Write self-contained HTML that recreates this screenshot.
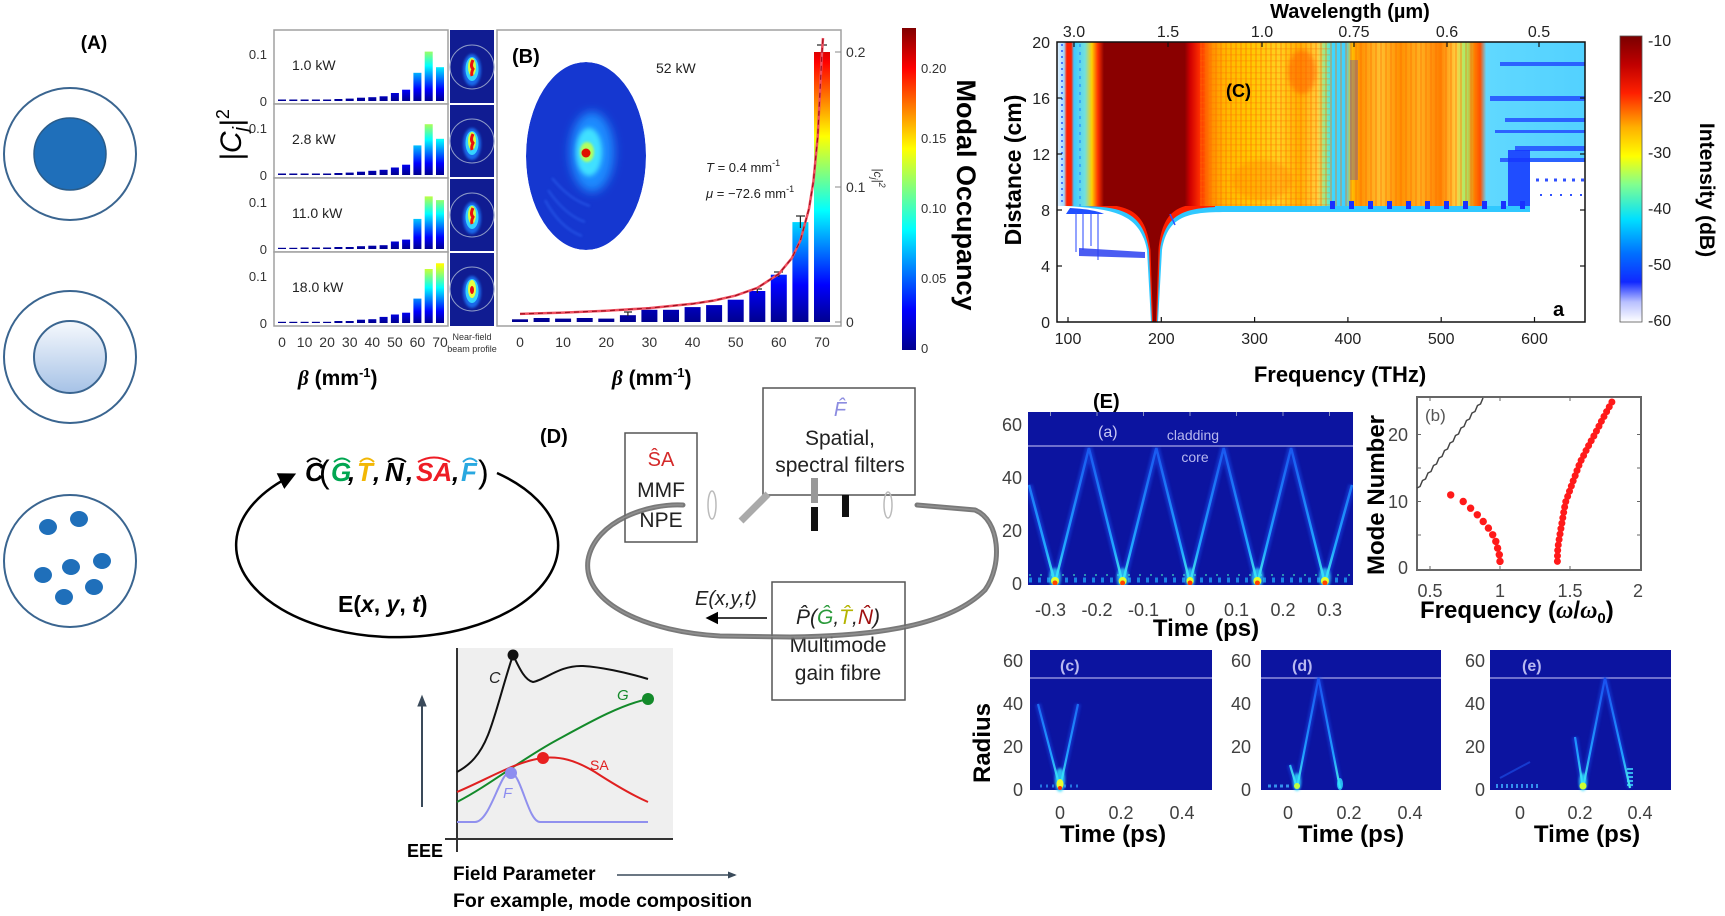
<!DOCTYPE html>
<html>
<head>
<meta charset="utf-8">
<style>
  html,body{margin:0;padding:0;background:#fff;}
  svg{display:block;}
  text{font-family:"Liberation Sans",sans-serif;}
</style>
</head>
<body>
<svg width="1725" height="916" viewBox="0 0 1725 916" xmlns="http://www.w3.org/2000/svg">
<defs>
  <linearGradient id="jetV" x1="0" y1="1" x2="0" y2="0">
    <stop offset="0" stop-color="#00008f"/>
    <stop offset="0.125" stop-color="#0000ff"/>
    <stop offset="0.375" stop-color="#00ffff"/>
    <stop offset="0.625" stop-color="#ffff00"/>
    <stop offset="0.875" stop-color="#ff0000"/>
    <stop offset="1" stop-color="#800000"/>
  </linearGradient>
  <linearGradient id="jetP" gradientUnits="userSpaceOnUse" x1="0" y1="0" x2="0" y2="-94">
    <stop offset="0" stop-color="#00008f"/>
    <stop offset="0.125" stop-color="#0000ff"/>
    <stop offset="0.375" stop-color="#00ffff"/>
    <stop offset="0.625" stop-color="#ffff00"/>
    <stop offset="0.875" stop-color="#ff0000"/>
    <stop offset="1" stop-color="#800000"/>
  </linearGradient>
  <linearGradient id="jetB" gradientUnits="userSpaceOnUse" x1="0" y1="0" x2="0" y2="-297">
    <stop offset="0" stop-color="#00008f"/>
    <stop offset="0.125" stop-color="#0000ff"/>
    <stop offset="0.375" stop-color="#00ffff"/>
    <stop offset="0.625" stop-color="#ffff00"/>
    <stop offset="0.875" stop-color="#ff0000"/>
    <stop offset="1" stop-color="#800000"/>
  </linearGradient>
  <linearGradient id="cbarC" x1="0" y1="1" x2="0" y2="0">
    <stop offset="0" stop-color="#ffffff"/>
    <stop offset="0.07" stop-color="#b8c0ff"/>
    <stop offset="0.14" stop-color="#1028ff"/>
    <stop offset="0.24" stop-color="#0070ff"/>
    <stop offset="0.36" stop-color="#00e0ff"/>
    <stop offset="0.48" stop-color="#80ff90"/>
    <stop offset="0.58" stop-color="#ffff00"/>
    <stop offset="0.68" stop-color="#ffb000"/>
    <stop offset="0.8" stop-color="#ff2000"/>
    <stop offset="0.9" stop-color="#c00000"/>
    <stop offset="1" stop-color="#7a0000"/>
  </linearGradient>
  <linearGradient id="gC" gradientUnits="userSpaceOnUse" x1="1057" y1="0" x2="1603" y2="0">
    <stop offset="0" stop-color="#e6f3ff"/>
    <stop offset="0.013" stop-color="#9fd8ff"/>
    <stop offset="0.018" stop-color="#ff2000"/>
    <stop offset="0.026" stop-color="#ff2000"/>
    <stop offset="0.031" stop-color="#40c8ff"/>
    <stop offset="0.051" stop-color="#70e0e0"/>
    <stop offset="0.064" stop-color="#ffd000"/>
    <stop offset="0.075" stop-color="#ff3000"/>
    <stop offset="0.086" stop-color="#8a0000"/>
    <stop offset="0.234" stop-color="#8a0000"/>
    <stop offset="0.244" stop-color="#d00000"/>
    <stop offset="0.262" stop-color="#ff3000"/>
    <stop offset="0.284" stop-color="#ff9000"/>
    <stop offset="0.308" stop-color="#ffb800"/>
    <stop offset="0.353" stop-color="#ffc800"/>
    <stop offset="0.408" stop-color="#ffd020"/>
    <stop offset="0.445" stop-color="#ffb000"/>
    <stop offset="0.478" stop-color="#ffd040"/>
    <stop offset="0.493" stop-color="#80f0a0"/>
    <stop offset="0.504" stop-color="#40d8ff"/>
    <stop offset="0.529" stop-color="#40d0ff"/>
    <stop offset="0.540" stop-color="#ffc000"/>
    <stop offset="0.555" stop-color="#ff9000"/>
    <stop offset="0.592" stop-color="#ffc030"/>
    <stop offset="0.628" stop-color="#ff9000"/>
    <stop offset="0.665" stop-color="#ffb020"/>
    <stop offset="0.701" stop-color="#ff8000"/>
    <stop offset="0.731" stop-color="#ffd040"/>
    <stop offset="0.749" stop-color="#a0f070"/>
    <stop offset="0.764" stop-color="#ff8000"/>
    <stop offset="0.775" stop-color="#ff5000"/>
    <stop offset="0.786" stop-color="#60d8ff"/>
    <stop offset="1" stop-color="#50d0ff"/>
  </linearGradient>
  <linearGradient id="coreGrad" x1="0" y1="0" x2="0" y2="1">
    <stop offset="0" stop-color="#f6f9fd"/>
    <stop offset="1" stop-color="#a6c2e6"/>
  </linearGradient>
  <linearGradient id="lineA" gradientUnits="userSpaceOnUse" x1="0" y1="583" x2="0" y2="448">
    <stop offset="0" stop-color="#50f0e0"/>
    <stop offset="0.25" stop-color="#20a8ff"/>
    <stop offset="1" stop-color="#1a58f0"/>
  </linearGradient>
  <linearGradient id="lineS" gradientUnits="userSpaceOnUse" x1="0" y1="788" x2="0" y2="678">
    <stop offset="0" stop-color="#50f0e0"/>
    <stop offset="0.3" stop-color="#20a0ff"/>
    <stop offset="1" stop-color="#1a50f0"/>
  </linearGradient>
  <pattern id="vstripe" patternUnits="userSpaceOnUse" width="5" height="10">
    <rect x="0" y="0" width="2" height="10" fill="#ff7000" opacity="0.35"/>
  </pattern>
  <pattern id="hstripe" patternUnits="userSpaceOnUse" width="10" height="6">
    <rect x="0" y="0" width="10" height="1.5" fill="#ff6a00" opacity="0.25"/>
  </pattern>
  <filter id="b1" x="-50%" y="-50%" width="200%" height="200%"><feGaussianBlur stdDeviation="1.2"/></filter>
  <filter id="b2" x="-50%" y="-50%" width="200%" height="200%"><feGaussianBlur stdDeviation="2.5"/></filter>
  <filter id="b4" x="-50%" y="-50%" width="200%" height="200%"><feGaussianBlur stdDeviation="5"/></filter>
  <marker id="arrK" viewBox="0 0 10 10" refX="8" refY="5" markerWidth="7" markerHeight="7" orient="auto">
    <path d="M0,0 L10,5 L0,10 z" fill="#000"/>
  </marker>
  <marker id="arrS" viewBox="0 0 10 10" refX="8" refY="5" markerWidth="6" markerHeight="6" orient="auto">
    <path d="M0,1 L10,5 L0,9 z" fill="#3a4a5a"/>
  </marker>
  <clipPath id="clipC"><rect x="1057" y="42" width="528" height="280"/></clipPath>
  <clipPath id="clipA"><rect x="1028" y="412" width="325" height="173"/></clipPath>
  <clipPath id="clipBeam"><ellipse cx="586" cy="156" rx="60" ry="94"/></clipPath>
</defs>

<rect width="1725" height="916" fill="#fff"/>

<!-- ================= (A) ================= -->
<text x="94" y="49" font-weight="bold" font-size="19" text-anchor="middle">(A)</text>
<circle cx="70" cy="154" r="66" fill="#fff" stroke="#3a6590" stroke-width="2"/>
<circle cx="70" cy="154" r="36" fill="#1f6fba" stroke="#2a5c8a" stroke-width="1.5"/>
<circle cx="70" cy="357" r="66" fill="#fff" stroke="#3a6590" stroke-width="2"/>
<circle cx="70" cy="357" r="36" fill="url(#coreGrad)" stroke="#3a6590" stroke-width="2"/>
<circle cx="70" cy="561" r="66" fill="#fff" stroke="#3a6590" stroke-width="2"/>
<g fill="#1f6fba">
  <ellipse cx="48" cy="527" rx="9" ry="8"/>
  <ellipse cx="79" cy="519" rx="9" ry="8"/>
  <ellipse cx="71" cy="567" rx="9" ry="8"/>
  <ellipse cx="102" cy="561" rx="9" ry="8"/>
  <ellipse cx="43" cy="575" rx="9" ry="8"/>
  <ellipse cx="94" cy="587" rx="9" ry="8"/>
  <ellipse cx="64" cy="597" rx="9" ry="8"/>
</g>

<!-- ================= (B) small panels ================= -->
<text transform="translate(241,135) rotate(-90)" text-anchor="middle" font-family="Liberation Serif, serif" font-size="30" font-style="italic">|C<tspan font-size="20" dy="6">j</tspan><tspan dy="-6">|</tspan><tspan font-size="18" dy="-12" font-style="normal">2</tspan></text>
<g fill="#fff" stroke="#a0a0a0" stroke-width="1.5">
  <rect x="274" y="30" width="174" height="74"/>
  <rect x="274" y="104" width="174" height="74"/>
  <rect x="274" y="178" width="174" height="74"/>
  <rect x="274" y="252" width="174" height="74"/>
</g>
<g>
  <rect x="450" y="30" width="44" height="73" fill="#101c92"/>
  <rect x="450" y="105" width="44" height="72" fill="#101c92"/>
  <rect x="450" y="179" width="44" height="72" fill="#101c92"/>
  <rect x="450" y="253" width="44" height="73" fill="#101c92"/>
</g>
<g transform="translate(472,67)">
  <circle r="22" fill="none" stroke="#8e9bc8" stroke-width="1"/>
  <ellipse cx="0" cy="3" rx="9" ry="16" fill="#1f7cff" opacity="0.8" filter="url(#b1)"/>
  <ellipse cx="0" cy="2" rx="6.5" ry="12" fill="#35d4ff"/>
  <ellipse cx="0" cy="0" rx="4" ry="9" fill="#d8ff40"/>
  <path d="M1,-7 Q-2,-1 1,2 Q-1,6 0,9" stroke="#e81010" stroke-width="3" fill="none"/>
</g>
<g transform="translate(472,141)">
  <circle r="22" fill="none" stroke="#8e9bc8" stroke-width="1"/>
  <ellipse cx="0" cy="3" rx="9" ry="16" fill="#1f7cff" opacity="0.8" filter="url(#b1)"/>
  <ellipse cx="0" cy="2" rx="6.5" ry="12" fill="#35d4ff"/>
  <ellipse cx="0" cy="0" rx="4" ry="9" fill="#d8ff40"/>
  <path d="M1,-7 Q-2,-1 1,2 Q-1,6 0,9" stroke="#e81010" stroke-width="3" fill="none"/>
</g>
<g transform="translate(472,215)">
  <circle r="22" fill="none" stroke="#8e9bc8" stroke-width="1"/>
  <ellipse cx="0" cy="3" rx="9" ry="16" fill="#1f7cff" opacity="0.8" filter="url(#b1)"/>
  <ellipse cx="0" cy="2" rx="6.5" ry="12" fill="#35d4ff"/>
  <ellipse cx="0" cy="0" rx="4" ry="9" fill="#d8ff40"/>
  <path d="M1,-7 Q-2,-1 1,2 Q-1,6 0,9" stroke="#e81010" stroke-width="3" fill="none"/>
</g>
<g transform="translate(472,289)">
  <circle r="22" fill="none" stroke="#8e9bc8" stroke-width="1"/>
  <ellipse cx="0" cy="3" rx="9" ry="16" fill="#1f7cff" opacity="0.8" filter="url(#b1)"/>
  <ellipse cx="0" cy="2" rx="6.5" ry="12" fill="#35d4ff"/>
  <ellipse cx="0" cy="0" rx="4" ry="9" fill="#e8ff40"/>
  <ellipse cx="0" cy="1" rx="2" ry="4" fill="#e81010"/>
</g>

<g transform="translate(0,101)" fill="url(#jetP)">
  <rect x="278" y="-1.5" width="8" height="1.5"/><rect x="289.3" y="-1.5" width="8" height="1.5"/><rect x="300.6" y="-1.5" width="8" height="1.5"/><rect x="311.9" y="-1.5" width="8" height="1.5"/><rect x="323.1" y="-1.5" width="8" height="1.5"/><rect x="334.4" y="-2" width="8" height="2"/><rect x="345.7" y="-2.4" width="8" height="2.4"/><rect x="357" y="-3.3" width="8" height="3.3"/><rect x="368.3" y="-3.8" width="8" height="3.8"/><rect x="379.6" y="-4.7" width="8" height="4.7"/><rect x="390.9" y="-8" width="8" height="8"/><rect x="402.1" y="-11.3" width="8" height="11.3"/><rect x="413.4" y="-28.2" width="8" height="28.2"/><rect x="424.7" y="-49.4" width="8" height="49.4"/><rect x="436" y="-33.8" width="8" height="33.8"/>
</g>
<g transform="translate(0,175)" fill="url(#jetP)">
  <rect x="278" y="-1.5" width="8" height="1.5"/><rect x="289.3" y="-1.5" width="8" height="1.5"/><rect x="300.6" y="-1.5" width="8" height="1.5"/><rect x="311.9" y="-1.5" width="8" height="1.5"/><rect x="323.1" y="-1.5" width="8" height="1.5"/><rect x="334.4" y="-2" width="8" height="2"/><rect x="345.7" y="-2.4" width="8" height="2.4"/><rect x="357" y="-3.3" width="8" height="3.3"/><rect x="368.3" y="-4.2" width="8" height="4.2"/><rect x="379.6" y="-5.2" width="8" height="5.2"/><rect x="390.9" y="-7.5" width="8" height="7.5"/><rect x="402.1" y="-10.3" width="8" height="10.3"/><rect x="413.4" y="-29.6" width="8" height="29.6"/><rect x="424.7" y="-50.8" width="8" height="50.8"/><rect x="436" y="-36.2" width="8" height="36.2"/>
</g>
<g transform="translate(0,249)" fill="url(#jetP)">
  <rect x="278" y="-1.2" width="8" height="1.2"/><rect x="289.3" y="-1.2" width="8" height="1.2"/><rect x="300.6" y="-1.5" width="8" height="1.5"/><rect x="311.9" y="-1.5" width="8" height="1.5"/><rect x="323.1" y="-1.5" width="8" height="1.5"/><rect x="334.4" y="-2" width="8" height="2"/><rect x="345.7" y="-2" width="8" height="2"/><rect x="357" y="-2.8" width="8" height="2.8"/><rect x="368.3" y="-3.3" width="8" height="3.3"/><rect x="379.6" y="-3.8" width="8" height="3.8"/><rect x="390.9" y="-7.5" width="8" height="7.5"/><rect x="402.1" y="-9.4" width="8" height="9.4"/><rect x="413.4" y="-30.1" width="8" height="30.1"/><rect x="424.7" y="-52.6" width="8" height="52.6"/><rect x="436" y="-48.9" width="8" height="48.9"/>
</g>
<g transform="translate(0,323)" fill="url(#jetP)">
  <rect x="278" y="-1.2" width="8" height="1.2"/><rect x="289.3" y="-1.2" width="8" height="1.2"/><rect x="300.6" y="-1.2" width="8" height="1.2"/><rect x="311.9" y="-1.2" width="8" height="1.2"/><rect x="323.1" y="-1.2" width="8" height="1.2"/><rect x="334.4" y="-2" width="8" height="2"/><rect x="345.7" y="-2" width="8" height="2"/><rect x="357" y="-3.3" width="8" height="3.3"/><rect x="368.3" y="-3.8" width="8" height="3.8"/><rect x="379.6" y="-6.1" width="8" height="6.1"/><rect x="390.9" y="-8.5" width="8" height="8.5"/><rect x="402.1" y="-10.3" width="8" height="10.3"/><rect x="413.4" y="-24.4" width="8" height="24.4"/><rect x="424.7" y="-54" width="8" height="54"/><rect x="436" y="-59.7" width="8" height="59.7"/>
</g>
<g font-size="14" fill="#222">
  <text x="292" y="70">1.0 kW</text>
  <text x="292" y="144">2.8 kW</text>
  <text x="292" y="218">11.0 kW</text>
  <text x="292" y="292">18.0 kW</text>
</g>
<g font-size="13" fill="#333" text-anchor="end">
  <text x="267" y="59">0.1</text><text x="267" y="106">0</text>
  <text x="267" y="133">0.1</text><text x="267" y="180">0</text>
  <text x="267" y="207">0.1</text><text x="267" y="254">0</text>
  <text x="267" y="281">0.1</text><text x="267" y="328">0</text>
</g>
<g font-size="14" fill="#333" text-anchor="middle">
  <text x="282" y="347">0</text><text x="304.6" y="347">10</text><text x="327.1" y="347">20</text><text x="349.7" y="347">30</text><text x="372.3" y="347">40</text><text x="394.9" y="347">50</text><text x="417.4" y="347">60</text><text x="440" y="347">70</text>
  <text x="472" y="340" font-size="9">Near-field</text>
  <text x="472" y="352" font-size="9">beam profile</text>
</g>
<text x="298" y="385" font-weight="bold" font-size="21"><tspan font-family="Liberation Serif, serif" font-style="italic">β</tspan> (mm<tspan font-size="13" dy="-8">-1</tspan><tspan dy="8">)</tspan></text>

<!-- ================= (B) main ================= -->
<rect x="497" y="30" width="344" height="296" fill="#fff" stroke="#a0a0a0" stroke-width="1.5"/>
<g clip-path="url(#clipBeam)">
  <ellipse cx="586" cy="156" rx="60" ry="94" fill="#1537d0"/>
  <g fill="none" stroke="#3a78ff" stroke-width="2" opacity="0.45" filter="url(#b1)">
    <path d="M548,190 Q565,215 585,222"/><path d="M545,200 Q560,228 582,236"/><path d="M552,178 Q570,200 590,206"/>
  </g>
  <ellipse cx="592" cy="152" rx="22" ry="40" fill="#1c8cff" filter="url(#b4)"/>
  <ellipse cx="589" cy="152" rx="13" ry="24" fill="#40e0ff" filter="url(#b2)"/>
  <ellipse cx="587" cy="152" rx="7" ry="10" fill="#b0ff60" filter="url(#b1)"/>
  <circle cx="586" cy="153" r="4.5" fill="#e01000"/>
</g>
<g transform="translate(0,322)" fill="url(#jetB)">
  <rect x="512" y="-2.7" width="16" height="2.7"/><rect x="533.6" y="-4" width="16" height="4"/><rect x="555.1" y="-3.4" width="16" height="3.4"/><rect x="576.7" y="-4" width="16" height="4"/><rect x="598.3" y="-3.4" width="16" height="3.4"/><rect x="619.9" y="-6.8" width="16" height="6.8"/><rect x="641.4" y="-12.2" width="16" height="12.2"/><rect x="663" y="-12.2" width="16" height="12.2"/><rect x="684.6" y="-14.9" width="16" height="14.9"/><rect x="706.1" y="-16.9" width="16" height="16.9"/><rect x="727.7" y="-22.3" width="16" height="22.3"/><rect x="749.3" y="-31" width="16" height="31"/><rect x="770.8" y="-47.3" width="16" height="47.3"/><rect x="792.4" y="-99.9" width="16" height="99.9"/><rect x="814" y="-270" width="16" height="270"/>
</g>
<g stroke="#222" stroke-width="1.2">
  <line x1="800.4" y1="216" x2="800.4" y2="228"/><line x1="796" y1="216" x2="805" y2="216"/>
  <line x1="822" y1="45" x2="822" y2="58"/><line x1="817" y1="45" x2="827" y2="45"/>
  <line x1="778.8" y1="272" x2="778.8" y2="277"/><line x1="774" y1="272" x2="783" y2="272"/>
  <line x1="757.3" y1="289" x2="757.3" y2="293"/><line x1="753" y1="289" x2="762" y2="289"/>
  <line x1="627.9" y1="312" x2="627.9" y2="316"/><line x1="624" y1="312" x2="632" y2="312"/>
</g>
<path d="M520,313.9 L563.1,312.6 L606.3,310.8 L649.4,308.1 L692.6,303.8 L714.1,300.5 L735.7,295.6 L757.3,287.9 L778.8,273.9 L791.8,258.2 L800.4,240.4 L809,208.7 L813.4,181.5 L817.7,137 L822,52 L823,38" fill="none" stroke="#f05060" stroke-width="2.5"/>
<path d="M520,313.9 L563.1,312.6 L606.3,310.8 L649.4,308.1 L692.6,303.8 L714.1,300.5 L735.7,295.6 L757.3,287.9 L778.8,273.9 L791.8,258.2 L800.4,240.4 L809,208.7 L813.4,181.5 L817.7,137 L822,52 L823,38" fill="none" stroke="#a01020" stroke-width="1.2" stroke-dasharray="5 4"/>
<g stroke="#888" stroke-width="1">
  <line x1="835" y1="322" x2="841" y2="322"/><line x1="835" y1="187" x2="841" y2="187"/><line x1="835" y1="52" x2="841" y2="52"/>
</g>
<g font-size="14" fill="#333">
  <text x="846" y="57">0.2</text><text x="846" y="192">0.1</text><text x="846" y="327">0</text>
</g>
<text transform="translate(874,178) rotate(90)" text-anchor="middle" font-size="12" font-style="italic" fill="#333">|c<tspan font-size="9" dy="3">j</tspan><tspan dy="-3">|</tspan><tspan font-size="9" dy="-5">2</tspan></text>
<text x="512" y="63" font-weight="bold" font-size="20">(B)</text>
<text x="656" y="73" font-size="14" fill="#222">52 kW</text>
<text x="706" y="172" font-size="13" fill="#222"><tspan font-style="italic">T</tspan> = 0.4 mm<tspan font-size="9" dy="-6">-1</tspan></text>
<text x="706" y="198" font-size="13" fill="#222"><tspan font-style="italic">μ</tspan> = −72.6 mm<tspan font-size="9" dy="-6">-1</tspan></text>
<g font-size="14" fill="#333" text-anchor="middle">
  <text x="520" y="347">0</text><text x="563.1" y="347">10</text><text x="606.3" y="347">20</text><text x="649.4" y="347">30</text><text x="692.6" y="347">40</text><text x="735.7" y="347">50</text><text x="778.8" y="347">60</text><text x="822" y="347">70</text>
</g>
<text x="612" y="385" font-weight="bold" font-size="21"><tspan font-family="Liberation Serif, serif" font-style="italic">β</tspan> (mm<tspan font-size="13" dy="-8">-1</tspan><tspan dy="8">)</tspan></text>

<rect x="902" y="28" width="14" height="322" fill="url(#jetV)"/>
<g font-size="13" fill="#333">
  <text x="921" y="73">0.20</text><text x="921" y="143">0.15</text><text x="921" y="213">0.10</text><text x="921" y="283">0.05</text><text x="921" y="353">0</text>
</g>
<text transform="translate(957,195) rotate(90)" text-anchor="middle" font-family="Liberation Serif, serif" font-weight="bold" font-size="27">Modal Occupancy</text>

<!-- ================= (C) ================= -->
<text x="1350" y="18" text-anchor="middle" font-weight="bold" font-size="20">Wavelength (µm)</text>
<g font-family="Liberation Serif, serif" font-size="16" fill="#222" text-anchor="middle">
  <text x="1074" y="37">3.0</text><text x="1168" y="37">1.5</text><text x="1262" y="37">1.0</text><text x="1354" y="37">0.75</text><text x="1447" y="37">0.6</text><text x="1539" y="37">0.5</text>
</g>
<g clip-path="url(#clipC)">
  <rect x="1057" y="42" width="546" height="280" fill="#fff"/>
  <path d="M1066,206 C1115,209 1140,214 1147,250 L1151,322 L1158,322 L1162,250 C1168,214 1190,212 1230,212 L1603,212 L1603,200 L1066,200 Z" fill="#30c8ff"/>
  <path d="M1070,208 C1090,209 1100,212 1104,214 L1066,214 Z" fill="#2050ff"/>
  <path d="M1085,206 C1125,207 1143,214 1149,250 L1152,322 L1157,322 L1160,250 C1165,213 1185,209 1215,207 L1215,200 L1085,200 Z" fill="#ff2000"/>
  <path d="M1100,204 C1135,206 1146,216 1150.5,250 L1153,322 L1156,322 L1158.5,250 C1162,214 1175,207 1195,204 Z" fill="#8a0000"/>
  <rect x="1057" y="42" width="546" height="164" fill="url(#gC)"/>
  <rect x="1200" y="42" width="280" height="164" fill="url(#vstripe)"/>
  <rect x="1200" y="42" width="130" height="164" fill="url(#hstripe)"/>
  <ellipse cx="1302" cy="72" rx="14" ry="22" fill="#ff6000" opacity="0.55" filter="url(#b2)"/>
  <ellipse cx="1262" cy="180" rx="30" ry="20" fill="#ff8000" opacity="0.35" filter="url(#b2)"/>
  <line x1="1062" y1="44" x2="1062" y2="206" stroke="#3060ff" stroke-width="2" stroke-dasharray="2 4" opacity="0.8"/>
  <line x1="1080" y1="44" x2="1080" y2="206" stroke="#2080ff" stroke-width="2" stroke-dasharray="3 5" opacity="0.5"/>
  <g fill="#1c3cff" opacity="0.75">
    <rect x="1500" y="62" width="103" height="4"/>
    <rect x="1490" y="96" width="113" height="5"/>
    <rect x="1505" y="118" width="98" height="4"/>
    <rect x="1495" y="130" width="108" height="3"/>
    <rect x="1515" y="146" width="88" height="5"/>
    <rect x="1500" y="158" width="103" height="4"/>
    <rect x="1350" y="60" width="8" height="120" opacity="0.4"/>
  </g>
  <rect x="1508" y="150" width="22" height="56" fill="#1535ff" opacity="0.85"/>
  <rect x="1530" y="162" width="73" height="50" fill="#fff"/>
  <line x1="1536" y1="180" x2="1603" y2="180" stroke="#3050ff" stroke-width="3" stroke-dasharray="3 6"/>
  <line x1="1540" y1="195" x2="1603" y2="195" stroke="#3050ff" stroke-width="2" stroke-dasharray="2 8"/>
  <line x1="1330" y1="205" x2="1530" y2="205" stroke="#1830ff" stroke-width="8" stroke-dasharray="5 14"/>
  <g stroke="#3050ff" stroke-width="1.5" opacity="0.7">
    <line x1="1076" y1="212" x2="1076" y2="252"/><line x1="1083" y1="212" x2="1083" y2="250"/><line x1="1091" y1="212" x2="1091" y2="246"/><line x1="1098" y1="212" x2="1098" y2="260"/>
  </g>
  <path d="M1079,248 L1145,252 L1145,258 L1079,256 Z" fill="#2a40f0" opacity="0.85"/>
  <line x1="1170" y1="214" x2="1175" y2="225" stroke="#3050ff" stroke-width="1.5"/>
</g>
<rect x="1057" y="42" width="528" height="280" fill="none" stroke="#111" stroke-width="1.5"/>
<g stroke="#111" stroke-width="1.2">
  <line x1="1057" y1="98" x2="1062" y2="98"/><line x1="1057" y1="154" x2="1062" y2="154"/><line x1="1057" y1="210" x2="1062" y2="210"/><line x1="1057" y1="266" x2="1062" y2="266"/>
  <line x1="1580" y1="98" x2="1585" y2="98"/><line x1="1580" y1="154" x2="1585" y2="154"/><line x1="1580" y1="210" x2="1585" y2="210"/><line x1="1580" y1="266" x2="1585" y2="266"/>
  <line x1="1068" y1="322" x2="1068" y2="317"/><line x1="1161.3" y1="322" x2="1161.3" y2="317"/><line x1="1254.6" y1="322" x2="1254.6" y2="317"/><line x1="1347.9" y1="322" x2="1347.9" y2="317"/><line x1="1441.2" y1="322" x2="1441.2" y2="317"/><line x1="1534.5" y1="322" x2="1534.5" y2="317"/>
  <line x1="1074" y1="42" x2="1074" y2="47"/><line x1="1168" y1="42" x2="1168" y2="47"/><line x1="1262" y1="42" x2="1262" y2="47"/><line x1="1354" y1="42" x2="1354" y2="47"/><line x1="1447" y1="42" x2="1447" y2="47"/><line x1="1539" y1="42" x2="1539" y2="47"/>
</g>
<g font-family="Liberation Serif, serif" font-size="16" fill="#222" text-anchor="end">
  <text x="1050" y="48">20</text><text x="1050" y="104">16</text><text x="1050" y="160">12</text><text x="1050" y="216">8</text><text x="1050" y="272">4</text><text x="1050" y="328">0</text>
</g>
<g font-family="Liberation Serif, serif" font-size="16" fill="#222" text-anchor="middle">
  <text x="1068" y="344">100</text><text x="1161.3" y="344">200</text><text x="1254.6" y="344">300</text><text x="1347.9" y="344">400</text><text x="1441.2" y="344">500</text><text x="1534.5" y="344">600</text>
</g>
<text transform="translate(1021,170) rotate(-90)" text-anchor="middle" font-weight="bold" font-size="23">Distance (cm)</text>
<text x="1226" y="97" font-weight="bold" font-size="18">(C)</text>
<text x="1553" y="316" font-family="Liberation Serif, serif" font-weight="bold" font-size="20">a</text>
<rect x="1620" y="36" width="22" height="286" fill="url(#cbarC)" stroke="#555" stroke-width="0.8"/>
<g font-family="Liberation Serif, serif" font-size="16" fill="#222">
  <text x="1648" y="46">-10</text><text x="1648" y="102">-20</text><text x="1648" y="158">-30</text><text x="1648" y="214">-40</text><text x="1648" y="270">-50</text><text x="1648" y="326">-60</text>
</g>
<text transform="translate(1700,190) rotate(90)" text-anchor="middle" font-weight="bold" font-size="21">Intensity (dB)</text>
<text x="1340" y="382" text-anchor="middle" font-weight="bold" font-size="22">Frequency (THz)</text>

<!-- ================= (D) ================= -->
<text x="540" y="443" font-weight="bold" font-size="20">(D)</text>
<path d="M497,473 A161 92 0 1 1 293,475" fill="none" stroke="#000" stroke-width="2.5" marker-end="url(#arrK)"/>
<g font-family="Liberation Serif, serif" font-weight="bold" font-size="26" font-style="italic">
  <text x="305" y="481">C</text>
  <text x="319" y="483" font-style="normal" font-weight="normal" font-size="32">(</text>
  <text x="331" y="481" fill="#00a651">G</text>
  <text x="348" y="481">,</text>
  <text x="357" y="481" fill="#f2b705">T</text>
  <text x="373" y="481">,</text>
  <text x="385" y="481">N</text>
  <text x="406" y="481">,</text>
  <text x="416" y="481" fill="#ee1c25">SA</text>
  <text x="452" y="481">,</text>
  <text x="461" y="481" fill="#29a8e0">F</text>
  <text x="478" y="483" font-style="normal" font-weight="normal" font-size="32">)</text>
</g>
<g fill="none" stroke-width="2">
  <path d="M307,462 Q314,455 321,462" stroke="#000"/>
  <path d="M334,462 Q342,455 350,462" stroke="#00a651"/>
  <path d="M360,462 Q367,455 374,462" stroke="#f2b705"/>
  <path d="M388,462 Q397,455 406,462" stroke="#000"/>
  <path d="M418,462 Q434,453 450,462" stroke="#ee1c25"/>
  <path d="M463,462 Q470,455 477,462" stroke="#29a8e0"/>
</g>
<text x="338" y="612" font-weight="bold" font-size="23">E(<tspan font-style="italic">x</tspan>, <tspan font-style="italic">y</tspan>, <tspan font-style="italic">t</tspan>)</text>

<rect x="763" y="388" width="152" height="107" fill="#fff" stroke="#555" stroke-width="1.5"/>
<text x="840" y="416" text-anchor="middle" font-size="20" font-style="italic" fill="#8c8ce0">F̂</text>
<text x="840" y="445" text-anchor="middle" font-size="21" fill="#222">Spatial,</text>
<text x="840" y="472" text-anchor="middle" font-size="21" fill="#222">spectral filters</text>
<rect x="625" y="433" width="72" height="109" fill="#fff" stroke="#555" stroke-width="1.5"/>
<text x="661" y="466" text-anchor="middle" font-size="20" fill="#d42a2a">ŜA</text>
<text x="661" y="497" text-anchor="middle" font-size="21" fill="#222">MMF</text>
<text x="661" y="527" text-anchor="middle" font-size="21" fill="#222">NPE</text>
<rect x="772" y="582" width="133" height="118" fill="#fff" stroke="#555" stroke-width="1.5"/>
<text x="838" y="624" text-anchor="middle" font-size="21" font-style="italic" fill="#222">P̂(<tspan fill="#2a9a3a">Ĝ</tspan>,<tspan fill="#b4b400">T̂</tspan>,<tspan fill="#a01010">N̂</tspan>)</text>
<text x="838" y="652" text-anchor="middle" font-size="21" fill="#222">Multimode</text>
<text x="838" y="680" text-anchor="middle" font-size="21" fill="#222">gain fibre</text>
<ellipse cx="712" cy="505" rx="4" ry="14" fill="none" stroke="#bbb" stroke-width="1.5"/>
<ellipse cx="888" cy="505" rx="4" ry="13" fill="none" stroke="#bbb" stroke-width="1.5"/>
<line x1="741" y1="521" x2="768" y2="494" stroke="#aaa" stroke-width="7"/>
<rect x="811" y="478" width="7" height="25" fill="#999"/>
<rect x="811" y="507" width="7" height="24" fill="#111"/>
<rect x="842" y="495" width="7" height="22" fill="#111"/>
<path d="M683,505 C650,503 595,520 588,560 C582,605 650,632 720,636 L790,637 C880,636 950,625 985,590 C1003,565 1000,520 975,510 L917,505" fill="none" stroke="#6a6a6a" stroke-width="5" stroke-linecap="round" opacity="0.9"/>
<path d="M683,505 C650,503 595,520 588,560 C582,605 650,632 720,636 L790,637 C880,636 950,625 985,590 C1003,565 1000,520 975,510 L917,505" fill="none" stroke="#a0a0a0" stroke-width="1.5" opacity="0.6"/>
<text x="695" y="605" font-size="20" font-style="italic" fill="#222">E(x,y,t)</text>
<line x1="767" y1="618" x2="708" y2="618" stroke="#222" stroke-width="1.8" marker-end="url(#arrK)"/>

<rect x="457" y="648" width="216" height="191" fill="#efefef"/>
<line x1="457" y1="648" x2="457" y2="852" stroke="#333" stroke-width="2"/>
<line x1="445" y1="839" x2="673" y2="839" stroke="#333" stroke-width="2"/>
<line x1="422" y1="807" x2="422" y2="697" stroke="#3a4a5a" stroke-width="2" marker-end="url(#arrS)"/>
<path d="M457,822 L475,822 C490,822 500,772 510,772 C521,772 528,822 540,822 L648,822" fill="none" stroke="#9090ee" stroke-width="2"/>
<path d="M457,802 C490,785 520,760 557,740 C590,722 620,705 648,699" fill="none" stroke="#138a2a" stroke-width="2"/>
<path d="M457,792 C490,778 515,762 542,758 C560,756 575,760 595,772 C615,785 632,795 648,802" fill="none" stroke="#e02020" stroke-width="2"/>
<path d="M457,772 C470,765 480,755 488,735 C496,715 503,685 513,655 C518,665 524,680 533,682 C545,680 560,665 583,666 C600,667 625,672 648,679" fill="none" stroke="#111" stroke-width="2"/>
<circle cx="513" cy="655" r="5.5" fill="#111"/>
<circle cx="648" cy="699" r="6" fill="#138a2a"/>
<circle cx="543" cy="758" r="6" fill="#e82020"/>
<circle cx="511" cy="773" r="6" fill="#8c8cf0"/>
<text x="489" y="683" font-size="16" font-style="italic" fill="#222">C</text>
<text x="617" y="700" font-size="15" font-style="italic" fill="#138a2a">G</text>
<text x="590" y="770" font-size="14" fill="#e02020">SA</text>
<text x="503" y="798" font-size="15" font-style="italic" fill="#8c8cf0">F</text>
<text x="407" y="857" font-weight="bold" font-size="18">EEE</text>
<text x="453" y="880" font-weight="bold" font-size="19">Field Parameter</text>
<line x1="617" y1="875" x2="735" y2="875" stroke="#3a4a5a" stroke-width="1.5" marker-end="url(#arrS)"/>
<text x="453" y="907" font-weight="bold" font-size="19.5">For example, mode composition</text>

<!-- ================= (E) ================= -->
<text x="1093" y="408" font-weight="bold" font-size="20">(E)</text>
<rect x="1028" y="412" width="325" height="173" fill="#0c14a0"/>
<g clip-path="url(#clipA)">
  <polyline points="1029,485 1055,583 1088.9,448 1122.6,583 1156.3,448 1190,583 1223.7,448 1257.4,583 1291.1,448 1324.9,583 1352,485" fill="none" stroke="#1848e8" stroke-width="7" opacity="0.55" filter="url(#b1)"/>
  <polyline points="1029,485 1055,583 1088.9,448 1122.6,583 1156.3,448 1190,583 1223.7,448 1257.4,583 1291.1,448 1324.9,583 1352,485" fill="none" stroke="url(#lineA)" stroke-width="2.5"/>
  <line x1="1029" y1="580" x2="1352" y2="580" stroke="#20b0ff" stroke-width="5" stroke-dasharray="3 6" opacity="0.7"/>
  <line x1="1029" y1="575" x2="1352" y2="575" stroke="#40e0c0" stroke-width="2" stroke-dasharray="2 9" opacity="0.6"/>
  <g>
    <ellipse cx="1055" cy="578" rx="6" ry="10" fill="#30e0ff" opacity="0.7" filter="url(#b1)"/>
    <ellipse cx="1055" cy="581" rx="4" ry="4" fill="#e0ff30"/>
    <circle cx="1055" cy="583" r="2.5" fill="#ff4000"/>
    <ellipse cx="1122.6" cy="578" rx="6" ry="10" fill="#30e0ff" opacity="0.7" filter="url(#b1)"/>
    <ellipse cx="1122.6" cy="581" rx="4" ry="4" fill="#e0ff30"/>
    <circle cx="1122.6" cy="583" r="2.5" fill="#ff4000"/>
    <ellipse cx="1190" cy="578" rx="5" ry="10" fill="#30e0ff" opacity="0.7" filter="url(#b1)"/>
    <ellipse cx="1190" cy="581" rx="3.5" ry="4" fill="#e0ff30"/>
    <circle cx="1190" cy="583" r="2.5" fill="#ff3000"/>
    <ellipse cx="1257.4" cy="578" rx="6" ry="10" fill="#30e0ff" opacity="0.7" filter="url(#b1)"/>
    <ellipse cx="1257.4" cy="581" rx="4" ry="4" fill="#e0ff30"/>
    <circle cx="1257.4" cy="583" r="2.5" fill="#ff4000"/>
    <ellipse cx="1324.9" cy="578" rx="6" ry="10" fill="#30e0ff" opacity="0.7" filter="url(#b1)"/>
    <ellipse cx="1324.9" cy="581" rx="4" ry="4" fill="#e0ff30"/>
    <circle cx="1324.9" cy="583" r="2.5" fill="#ff4000"/>
  </g>
</g>
<line x1="1028" y1="446" x2="1353" y2="446" stroke="#a8a8e8" stroke-width="1.2"/>
<text x="1193" y="440" text-anchor="middle" font-size="14" fill="#b8b8ee">cladding</text>
<text x="1195" y="462" text-anchor="middle" font-size="14" fill="#b8b8ee">core</text>
<text x="1098" y="437" font-size="16" fill="#c8c8f4">(a)</text>
<g stroke="#8890c0" stroke-width="1">
  <line x1="1050.5" y1="412" x2="1050.5" y2="416"/><line x1="1097" y1="412" x2="1097" y2="416"/><line x1="1143.5" y1="412" x2="1143.5" y2="416"/><line x1="1190" y1="412" x2="1190" y2="416"/><line x1="1236.5" y1="412" x2="1236.5" y2="416"/><line x1="1283" y1="412" x2="1283" y2="416"/><line x1="1329.5" y1="412" x2="1329.5" y2="416"/>
</g>
<g font-size="18" fill="#404040" text-anchor="end">
  <text x="1022" y="431">60</text><text x="1022" y="484">40</text><text x="1022" y="537">20</text><text x="1022" y="590">0</text>
</g>
<g font-size="18" fill="#404040" text-anchor="middle">
  <text x="1050.5" y="616">-0.3</text><text x="1097" y="616">-0.2</text><text x="1143.5" y="616">-0.1</text><text x="1190" y="616">0</text><text x="1236.5" y="616">0.1</text><text x="1283" y="616">0.2</text><text x="1329.5" y="616">0.3</text>
</g>
<text x="1206" y="636" text-anchor="middle" font-weight="bold" font-size="24">Time (ps)</text>

<rect x="1417" y="397" width="224" height="173" fill="#fff" stroke="#666" stroke-width="2"/>
<g stroke="#666" stroke-width="1">
  <line x1="1417" y1="535" x2="1421" y2="535"/><line x1="1417" y1="501.5" x2="1421" y2="501.5"/><line x1="1417" y1="468" x2="1421" y2="468"/><line x1="1417" y1="434.5" x2="1421" y2="434.5"/>
  <line x1="1641" y1="535" x2="1637" y2="535"/><line x1="1641" y1="501.5" x2="1637" y2="501.5"/><line x1="1641" y1="468" x2="1637" y2="468"/><line x1="1641" y1="434.5" x2="1637" y2="434.5"/>
  <line x1="1430" y1="570" x2="1430" y2="566"/><line x1="1500" y1="570" x2="1500" y2="566"/><line x1="1570" y1="570" x2="1570" y2="566"/>
  <line x1="1430" y1="397" x2="1430" y2="401"/><line x1="1500" y1="397" x2="1500" y2="401"/><line x1="1570" y1="397" x2="1570" y2="401"/>
</g>
<polyline points="1417,488 1420,486.5 1422.5,480.5 1425.5,479 1428,473 1431,471.5 1433.5,465.5 1436.5,464 1439,458 1442,456.5 1444.5,450.5 1447.5,449 1450,443 1453,441.5 1455.5,435.5 1458.5,434 1461,428 1464,426.5 1466.5,420.5 1469.5,419 1472,413 1475,411.5 1477.5,405.5 1480.5,404 1483,398" fill="none" stroke="#444" stroke-width="1.5"/>
<text x="1425" y="421" font-size="17" fill="#555">(b)</text>
<g fill="#ff1a1a">
  <circle cx="1450.7" cy="494.9" r="3.7"/><circle cx="1463.2" cy="501.5" r="3.7"/><circle cx="1470.6" cy="508.2" r="3.7"/><circle cx="1477.3" cy="514.8" r="3.7"/><circle cx="1483.2" cy="521.5" r="3.7"/><circle cx="1488.4" cy="528.1" r="3.7"/><circle cx="1492.7" cy="534.8" r="3.7"/><circle cx="1495.8" cy="541.4" r="3.7"/><circle cx="1497.6" cy="548.1" r="3.7"/><circle cx="1499.3" cy="554.7" r="3.7"/><circle cx="1500" cy="561.4" r="3.7"/>
</g>
<polyline points="1557.4,561.4 1557.5,554.7 1557.8,548.1 1558.8,541.4 1559.9,534.8 1561,528.1 1562.2,521.5 1563.3,514.8 1564.4,508.2 1565.8,501.5 1568.2,494.9 1570.6,488.2 1572.9,481.6 1575.5,474.9 1577.8,468.3 1580.5,461.6 1583.9,454.9 1587.2,448.3 1590.7,441.7 1594.4,435 1597.9,428.4 1601.2,421.7 1604.7,415.1 1608.4,408.4 1612,401.8" fill="none" stroke="#ff1a1a" stroke-width="7" stroke-linecap="round" stroke-dasharray="0 5.5"/>
<g font-size="18" fill="#444" text-anchor="end">
  <text x="1408" y="574">0</text><text x="1408" y="508">10</text><text x="1408" y="441">20</text>
</g>
<g font-size="18" fill="#444" text-anchor="middle">
  <text x="1430" y="597">0.5</text><text x="1500" y="597">1</text><text x="1570" y="597">1.5</text><text x="1638" y="597">2</text>
</g>
<text transform="translate(1384,495) rotate(-90)" text-anchor="middle" font-weight="bold" font-size="24">Mode Number</text>
<text x="1420" y="618" font-weight="bold" font-size="24">Frequency (<tspan font-family="Liberation Serif, serif" font-style="italic">ω</tspan>/<tspan font-family="Liberation Serif, serif" font-style="italic">ω</tspan><tspan font-size="15" dy="5">0</tspan><tspan dy="-5">)</tspan></text>

<rect x="1030" y="650" width="182" height="140" fill="#0c14a0"/>
<line x1="1030" y1="678" x2="1212" y2="678" stroke="#a8a8e8" stroke-width="1.2"/>
<polyline points="1038,704 1060,788 1078,704" fill="none" stroke="#1848e8" stroke-width="6" opacity="0.5" filter="url(#b1)"/>
<polyline points="1038,704 1060,788 1078,704" fill="none" stroke="url(#lineS)" stroke-width="2.2"/>
<line x1="1040" y1="786" x2="1080" y2="786" stroke="#30a0ff" stroke-width="3" stroke-dasharray="2 4" opacity="0.7"/>
<ellipse cx="1060" cy="780" rx="5" ry="12" fill="#30e0ff" opacity="0.8" filter="url(#b1)"/>
<ellipse cx="1060" cy="784" rx="3.5" ry="5" fill="#e8ff30"/>
<circle cx="1060" cy="788" r="2" fill="#ff3000"/>
<text x="1060" y="671" font-size="16" font-weight="bold" fill="#b8b8f0">(c)</text>
<g font-size="18" fill="#404040" text-anchor="end">
  <text x="1023" y="667">60</text><text x="1023" y="710">40</text><text x="1023" y="753">20</text><text x="1023" y="796">0</text>
</g>
<g font-size="18" fill="#404040" text-anchor="middle">
  <text x="1060" y="819">0</text><text x="1121" y="819">0.2</text><text x="1182" y="819">0.4</text>
</g>
<text x="1113" y="842" text-anchor="middle" font-weight="bold" font-size="24">Time (ps)</text>
<text transform="translate(990,743) rotate(-90)" text-anchor="middle" font-weight="bold" font-size="24">Radius</text>

<rect x="1261" y="650" width="180" height="140" fill="#0c14a0"/>
<line x1="1261" y1="678" x2="1441" y2="678" stroke="#a8a8e8" stroke-width="1.2"/>
<polyline points="1290,765 1297,788 1318.5,678 1340,788" fill="none" stroke="#1848e8" stroke-width="6" opacity="0.5" filter="url(#b1)"/>
<polyline points="1290,765 1297,788 1318.5,678 1340,788" fill="none" stroke="url(#lineS)" stroke-width="2.2"/>
<line x1="1268" y1="786" x2="1292" y2="786" stroke="#40b0ff" stroke-width="3" stroke-dasharray="3 3" opacity="0.8"/>
<ellipse cx="1297" cy="782" rx="4" ry="9" fill="#30e0ff" opacity="0.8" filter="url(#b1)"/>
<ellipse cx="1297" cy="786" rx="3" ry="3" fill="#c0ff40"/>
<ellipse cx="1340" cy="784" rx="3" ry="6" fill="#30e0ff" opacity="0.8"/>
<text x="1292" y="671" font-size="16" font-weight="bold" fill="#b8b8f0">(d)</text>
<g font-size="18" fill="#404040" text-anchor="end">
  <text x="1251" y="667">60</text><text x="1251" y="710">40</text><text x="1251" y="753">20</text><text x="1251" y="796">0</text>
</g>
<g font-size="18" fill="#404040" text-anchor="middle">
  <text x="1288" y="819">0</text><text x="1349" y="819">0.2</text><text x="1410" y="819">0.4</text>
</g>
<text x="1351" y="842" text-anchor="middle" font-weight="bold" font-size="24">Time (ps)</text>

<rect x="1490" y="650" width="181" height="140" fill="#0c14a0"/>
<line x1="1490" y1="678" x2="1671" y2="678" stroke="#a8a8e8" stroke-width="1.2"/>
<polyline points="1575,737 1583,788 1605,678 1630,788" fill="none" stroke="#1848e8" stroke-width="6" opacity="0.5" filter="url(#b1)"/>
<polyline points="1575,737 1583,788 1605,678 1630,788" fill="none" stroke="url(#lineS)" stroke-width="2.2"/>
<line x1="1496" y1="786" x2="1540" y2="786" stroke="#40b0ff" stroke-width="4" stroke-dasharray="2 3" opacity="0.8"/>
<line x1="1500" y1="778" x2="1530" y2="762" stroke="#2060ff" stroke-width="2" opacity="0.5"/>
<ellipse cx="1583" cy="782" rx="4" ry="9" fill="#30e0ff" opacity="0.8" filter="url(#b1)"/>
<ellipse cx="1583" cy="786" rx="3.5" ry="3.5" fill="#d0ff30"/>
<line x1="1630" y1="768" x2="1630" y2="788" stroke="#40d8ff" stroke-width="6" stroke-dasharray="2 2" opacity="0.8"/>
<text x="1522" y="671" font-size="16" font-weight="bold" fill="#b8b8f0">(e)</text>
<g font-size="18" fill="#404040" text-anchor="end">
  <text x="1485" y="667">60</text><text x="1485" y="710">40</text><text x="1485" y="753">20</text><text x="1485" y="796">0</text>
</g>
<g font-size="18" fill="#404040" text-anchor="middle">
  <text x="1520" y="819">0</text><text x="1580" y="819">0.2</text><text x="1640" y="819">0.4</text>
</g>
<text x="1587" y="842" text-anchor="middle" font-weight="bold" font-size="24">Time (ps)</text>
</svg>
</body>
</html>
